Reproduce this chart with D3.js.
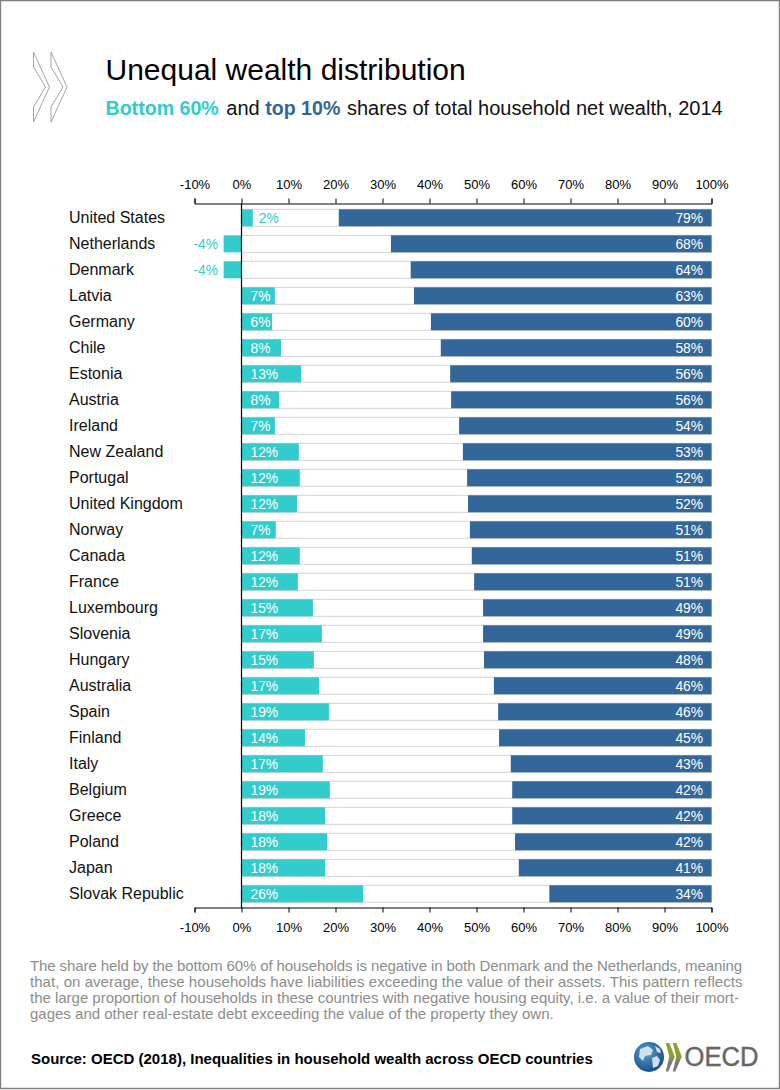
<!DOCTYPE html>
<html><head><meta charset="utf-8">
<script src="https://cdn.jsdelivr.net/npm/d3@7"></script>
<style>
html,body{margin:0;padding:0;background:#fff}
svg{display:block;font-family:"Liberation Sans",Arial,sans-serif}
</style></head><body><div id="chart"></div>
<script>
const countries=["United States","Netherlands","Denmark","Latvia","Germany","Chile","Estonia","Austria","Ireland","New Zealand","Portugal","United Kingdom","Norway","Canada","France","Luxembourg","Slovenia","Hungary","Australia","Spain","Finland","Italy","Belgium","Greece","Poland","Japan","Slovak Republic"];
const bottom60=[2.4,-3.8,-3.8,7.1,6.5,8.4,12.7,8.0,7.1,12.2,12.4,11.8,7.3,12.4,12.0,15.2,17.1,15.4,16.5,18.6,13.5,17.3,18.8,17.8,18.2,17.8,25.9];
const top10=[79.3,68.2,64.0,63.3,59.7,57.6,55.6,55.4,53.7,52.9,52.0,51.8,51.4,51.0,50.5,48.6,48.6,48.4,46.3,45.4,45.2,42.7,42.4,42.4,41.8,41.0,34.5];
const bottomLabels=[2,-4,-4,7,6,8,13,8,7,12,12,12,7,12,12,15,17,15,17,19,14,17,19,18,18,18,26];
const topLabels=[79,68,64,63,60,58,56,56,54,53,52,52,51,51,51,49,49,48,46,46,45,43,42,42,42,41,34];
const ticks=[-10,0,10,20,30,40,50,60,70,80,90,100];
const noteLines=["The share held by the bottom 60% of households is negative in both Denmark and the Netherlands, meaning","that, on average, these households have liabilities exceeding the value of their assets. This pattern reflects","the large proportion of households in these countries with negative housing equity, i.e. a value of their mort-","gages and other real-estate debt exceeding the value of the property they own."];
const TEAL="#33cccc",BLUE="#336699";

const W=780,H=1090;
const svg=d3.select("#chart").append("svg").attr("width",W).attr("height",H);
svg.append("rect").attr("width",W).attr("height",H).attr("fill","#fff");
svg.append("path").attr("d","M0.5 0.5H779.5V1088.5H0.5Z").attr("fill","none").attr("stroke","#7f7f7f").attr("stroke-width",1.4);

[33.5,51].forEach(x=>{
  svg.append("path").attr("d",`M${x} 52L${x+16} 87L${x} 122V107L${x+12} 87L${x} 67Z`)
    .attr("fill","none").attr("stroke","#9a9a9a").attr("stroke-width",0.9);
});

svg.append("text").attr("x",105.5).attr("y",80).attr("font-size",30).attr("fill","#000").text("Unequal wealth distribution");
const sub=svg.append("text").attr("x",105.5).attr("y",114.5).attr("font-size",20).attr("fill","#111");
sub.append("tspan").attr("font-weight","bold").attr("font-size",19.6).attr("fill",TEAL).text("Bottom 60%");
sub.append("tspan").attr("dx",2).text(" and ");
sub.append("tspan").attr("font-weight","bold").attr("font-size",19.6).attr("fill",BLUE).text("top 10%");
sub.append("tspan").attr("dx",1).text(" shares of total household net wealth, 2014");

const x=d3.scaleLinear().domain([-10,100]).range([194.5,711.5]);
const y=d3.scaleBand().domain(countries).range([204.8,906.8]).paddingInner(9/26).paddingOuter(4.5/26);

const rows=svg.append("g").selectAll("g").data(countries).join("g");
rows.append("rect").attr("x",x(0)).attr("y",c=>y(c)).attr("width",x(100)-x(0)).attr("height",y.bandwidth())
  .attr("fill","#fff").attr("stroke","#d4d4d4").attr("stroke-width",1);
rows.append("rect").attr("x",(c,i)=>x(100-top10[i])).attr("y",c=>y(c)).attr("width",(c,i)=>x(100)-x(100-top10[i])).attr("height",y.bandwidth()).attr("fill",BLUE);
rows.append("rect").attr("x",(c,i)=>x(Math.min(0,bottom60[i]))).attr("y",c=>y(c)).attr("width",(c,i)=>Math.abs(x(bottom60[i])-x(0))).attr("height",y.bandwidth()).attr("fill",TEAL);
rows.append("text").attr("x",69).attr("y",c=>y(c)+y.bandwidth()/2+5.3).attr("font-size",16).attr("fill","#111").text(c=>c);
rows.append("text").attr("x",(c,i)=>bottomLabels[i]<0?218:bottomLabels[i]<5?x(bottom60[i])+6:x(0)+9)
  .attr("text-anchor",(c,i)=>bottomLabels[i]<0?"end":"start")
  .attr("y",c=>y(c)+y.bandwidth()/2+5.3).attr("font-size",13.8)
  .attr("fill",(c,i)=>bottomLabels[i]<5?TEAL:"#fff").text((c,i)=>bottomLabels[i]+"%");
rows.append("text").attr("x",703).attr("text-anchor","end").attr("y",c=>y(c)+y.bandwidth()/2+5.3).attr("font-size",13.8)
  .attr("fill","#fff").text((c,i)=>topLabels[i]+"%");

function axis(gen,ty){
  const g=svg.append("g").attr("transform",`translate(0,${ty})`)
    .call(gen.tickValues(ticks).tickFormat(d=>d+"%").tickSizeOuter(0).tickSize(5).tickPadding(10));
  g.selectAll("text").attr("font-size",13).attr("fill","#000").attr("font-family","inherit");
  g.selectAll("path,line").attr("stroke","#000").attr("stroke-width",1);
  return g;
}
axis(d3.axisTop(x),203.5);
axis(d3.axisBottom(x),907.5);
svg.append("line").attr("x1",x(0)).attr("x2",x(0)).attr("y1",203.5).attr("y2",907.5).attr("stroke","#000").attr("stroke-width",1.2);

const noteWidths=[712,712.5,709,null];
noteLines.forEach((t,i)=>{
  const n=svg.append("text").attr("x",30).attr("y",970.5+i*16).attr("font-size",15).attr("fill","#8c8c8c").text(t);
  if(noteWidths[i]) n.attr("textLength",noteWidths[i]).attr("lengthAdjust","spacing");
});
svg.append("text").attr("x",31).attr("y",1064).attr("font-size",15).attr("font-weight","bold").attr("fill","#000").text("Source: OECD (2018), Inequalities in household wealth across OECD countries");

const defs=svg.append("defs");
const gr=defs.append("radialGradient").attr("id","globe").attr("cx","40%").attr("cy","35%").attr("r","70%");
gr.append("stop").attr("offset","0%").attr("stop-color","#5f9ccb");
gr.append("stop").attr("offset","100%").attr("stop-color","#0d4f8b");
const lg=defs.append("linearGradient").attr("id","chev").attr("x1",0).attr("y1",0).attr("x2",0).attr("y2",1);
lg.append("stop").attr("offset","45%").attr("stop-color","#8f9e2e");
lg.append("stop").attr("offset","70%").attr("stop-color","#7a7a7a");
svg.append("circle").attr("cx",649).attr("cy",1057).attr("r",15).attr("fill","url(#globe)");
svg.append("path").attr("d","M640 1049l8-3 5 4-2 5-6 1-2 5-4-4zM652 1058l5-2 3 4-2 6-5 2zM655 1046l5 3 1 4-4-1z").attr("fill","#cfe0ee");
[665.8,672.8].forEach(cx=>{
  svg.append("path").attr("d",`M${cx} 1043h3.500l5.500 13.500l-6.500 15h-2.500l3.500-15z`).attr("fill","url(#chev)");
});
svg.append("text").attr("x",684.5).attr("y",1066).attr("font-size",27).attr("fill","#666").attr("stroke","#666").attr("stroke-width",0.4).attr("textLength",74).attr("lengthAdjust","spacingAndGlyphs").text("OECD");
</script></body></html>
